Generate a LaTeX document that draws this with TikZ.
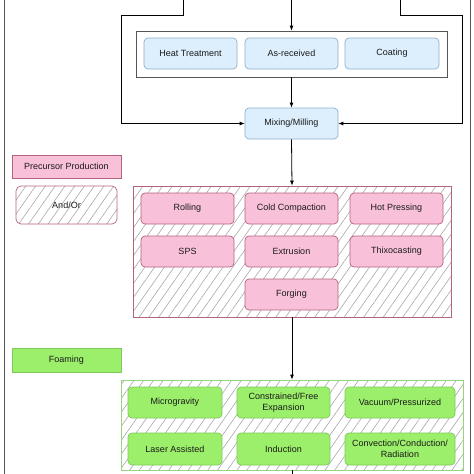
\documentclass[tikz,border=0pt]{standalone}
\usepackage{fontspec}
\setmainfont{Liberation Sans}
\usetikzlibrary{arrows.meta,patterns.meta}
\definecolor{bluef}{HTML}{DDEFFC}
\definecolor{blued}{HTML}{8EAFCB}
\definecolor{pinkf}{HTML}{F8C1D9}
\definecolor{pinkd}{HTML}{B5627F}
\definecolor{greenf}{HTML}{9CEF6A}
\definecolor{greend}{HTML}{7DC95B}
\definecolor{hatchc}{HTML}{A8A8A8}
\definecolor{txt}{HTML}{1A1A1A}
\definecolor{framec}{HTML}{555555}
\begin{document}
\begin{tikzpicture}[x=1pt,y=-1pt,
  font=\fontsize{9}{10.5}\selectfont,
  box/.style={draw, rounded corners=4pt, minimum width=93pt, minimum height=31pt, inner sep=1pt, text=txt, align=center, line width=0.7pt},
  bluebox/.style={box, fill=bluef, draw=blued},
  pinkbox/.style={box, fill=pinkf, draw=pinkd},
  greenbox/.style={box, fill=greenf, draw=greend},
  hatched/.style={pattern={Lines[angle=55,distance=8pt,line width=0.6pt]}, pattern color=hatchc},
  container/.style={draw, inner sep=0pt, line width=0.8pt},
  legend/.style={draw, inner sep=0pt, minimum width=109pt, text=txt, line width=0.7pt},
  conn/.style={draw=black, line width=0.8pt, -{Latex[length=5pt,width=4pt]}},
  plain/.style={draw=black, line width=0.8pt}
]
\useasboundingbox (0,0) rectangle (474,474);
% outer frame
\draw[framec, line width=0.8pt] (4,0) -- (4,474);
\draw[framec, line width=0.8pt] (470,0) -- (470,474);

% top container
\node[container, draw=framec, fill=white, minimum width=311pt, minimum height=46pt] (c1) at (291.5,54) {};
\node[bluebox] (ht) at (190.5,53.5) {Heat Treatment};
\node[bluebox] (ar) at (291.5,53.5) {As-received};
\node[bluebox, minimum width=94pt] (co) at (392,53.5) {Coating};

\node[bluebox] (mix) at (291.5,123.5) {Mixing/Milling};

% legends
\node[legend, fill=pinkf, draw=pinkd, minimum height=23pt] (lpre) at (66.5,166.5) {Precursor Production};
\node[legend, draw=pinkd, rounded corners=5pt, hatched, minimum width=101pt, minimum height=38pt] (land) at (66.5,205) {And/Or};
\node[legend, fill=greenf, draw=greend, minimum height=24pt] (lfoam) at (66.5,360) {Foaming};

% precursor container
\node[container, draw=pinkd, hatched, minimum width=318pt, minimum height=131pt] (c2) at (292,251.5) {};
\node[pinkbox] (rol) at (187.5,208.5) {Rolling};
\node[pinkbox] (cc) at (291.5,208.5) {Cold Compaction};
\node[pinkbox] (hp) at (396.5,208.5) {Hot Pressing};
\node[pinkbox] (sps) at (187.5,251.5) {SPS};
\node[pinkbox] (ext) at (291.5,251.5) {Extrusion};
\node[pinkbox] (thx) at (396.5,251.5) {Thixocasting};
\node[pinkbox] (forg) at (291.5,294.5) {Forging};

% foaming container
\node[container, draw=greend!80!white, hatched, minimum width=342pt, minimum height=90pt] (c3) at (292,425) {};
\node[greenbox, minimum width=94pt] (mg) at (175,402.5) {Microgravity};
\node[greenbox] (cfe) at (283.5,402.5) {Constrained/Free\\Expansion};
\node[greenbox, minimum width=110pt] (vac) at (400,402.5) {Vacuum/Pressurized};
\node[greenbox, minimum width=94pt, minimum height=32pt] (las) at (175,449) {Laser Assisted};
\node[greenbox, minimum height=32pt] (ind) at (283.5,449) {Induction};
\node[greenbox, minimum width=110pt, minimum height=32pt] (cvr) at (400,449) {Convection/Conduction/\\Radiation};

% connector ends
\coordinate (tl) at (183,0);
\coordinate (tm) at (291.5,0);
\coordinate (tr) at (400,0);
\coordinate (bot) at (292,474);

\draw[conn] (tl) -- (183,15) -- (121,15) -- (121,123.5) -- (mix.west);
\draw[conn] (tr) -- (400,15) -- (462,15) -- (462,123.5) -- (mix.east);
\draw[conn] (tm) -- (c1.north);
\draw[conn] (c1.south) -- (mix.north);
\draw[conn] (mix.south) -- (c2.north);
\draw[conn] (c2.south) -- (c3.north);
\draw[plain] (c3.south) -- (bot);
\end{tikzpicture}
\end{document}
